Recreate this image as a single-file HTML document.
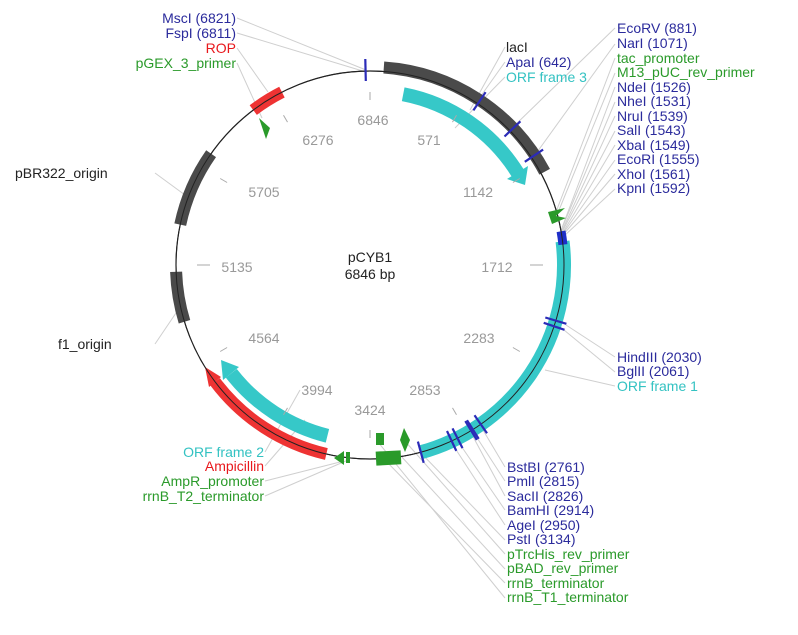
<!DOCTYPE html>
<html><head><meta charset="utf-8"><style>
body{margin:0;background:#fff;width:798px;height:630px;overflow:hidden}
svg{font-family:"Liberation Sans",Arial,sans-serif}
.e{fill:#2b2b9c;font-size:14px}
.g{fill:#2a9a2a;font-size:14px}
.t{fill:#33c2c2;font-size:14px}
.r{fill:#e8181c;font-size:14px}
.k{fill:#222;font-size:14px}
.n{fill:#999;font-size:14px;text-anchor:middle}
.l{stroke:#cfcfcf;stroke-width:1;fill:none}
.tk{stroke:#aaa;stroke-width:1}
.c{stroke:#2b2bb8;stroke-width:2.2}
</style></head><body>
<svg width="798" height="630" viewBox="0 0 798 630">
<g class="l">
<path d="M237,18 L366,70"/><path d="M237,33 L366,72"/>
<path d="M237,48 L268,92"/><path d="M237,63 L262,118"/>
<path d="M155,173 L185,195"/><path d="M155,344 L178,310"/>
<path d="M505,47 L470,110"/><path d="M505,62 L478,100"/><path d="M505,77 L455,128"/>
<path d="M615,28 L512,128"/><path d="M615,44 L535,155"/>
<path d="M615,58 L556,212"/><path d="M615,73 L557,215"/>
<path d="M615,87 L560,233"/><path d="M615,102 L560,233"/><path d="M615,116 L561,233"/>
<path d="M615,131 L561,234"/><path d="M615,145 L562,234"/><path d="M615,160 L562,235"/>
<path d="M615,174 L563,235"/><path d="M615,189 L564,236"/>
<path d="M615,357 L566,325"/><path d="M615,372 L564,330"/><path d="M615,386 L545,370"/>
<path d="M505,467 L480,425"/><path d="M505,481 L472,430"/><path d="M505,496 L470,431"/>
<path d="M505,510 L457,440"/><path d="M505,525 L451,442"/><path d="M505,540 L420,452"/>
<path d="M505,554 L404,440"/><path d="M505,569 L400,455"/><path d="M505,583 L385,460"/><path d="M505,598 L378,442"/>
<path d="M265,452 L300,390"/><path d="M265,466 L305,420"/><path d="M265,481 L340,462"/><path d="M265,496 L348,460"/>
</g>
<circle cx="370" cy="265" r="194" fill="none" stroke="#222" stroke-width="1.2"/>
<circle cx="370" cy="265" r="198" fill="none" stroke="#4a4a4a" stroke-width="12" stroke-dasharray="200 2000" transform="rotate(-86 370 265)"/>
<circle cx="370" cy="265" r="174" fill="none" stroke="#36c8c8" stroke-width="14" stroke-dasharray="142.7 2000" transform="rotate(-79 370 265)"/>
<polygon points="507,179 528,166 525,185" fill="#36c8c8"/>
<circle cx="370" cy="265" r="194" fill="none" stroke="#36c8c8" stroke-width="14" stroke-dasharray="277.6 2000" transform="rotate(-7 370 265)"/>
<circle cx="370" cy="265" r="194" fill="none" stroke="#1e2ec8" stroke-width="9" stroke-dasharray="13.5 2000" transform="rotate(-10 370 265)"/>
<circle cx="370" cy="265" r="194" fill="none" stroke="#ee3333" stroke-width="12" stroke-dasharray="33.9 2000" transform="rotate(233 370 265)"/>
<circle cx="370" cy="265" r="194" fill="none" stroke="#4a4a4a" stroke-width="12" stroke-dasharray="77.9 2000" transform="rotate(192 370 265)"/>
<circle cx="370" cy="265" r="194" fill="none" stroke="#4a4a4a" stroke-width="12" stroke-dasharray="50.8 2000" transform="rotate(163 370 265)"/>
<circle cx="370" cy="265" r="194" fill="none" stroke="#ee3333" stroke-width="12" stroke-dasharray="135.4 2000" transform="rotate(103 370 265)"/>
<polygon points="221,377 209,387 205,367" fill="#ee3333"/>
<circle cx="370" cy="265" r="176" fill="none" stroke="#36c8c8" stroke-width="14" stroke-dasharray="116.7 2000" transform="rotate(104 370 265)"/>
<polygon points="239,367 223,380 221,360" fill="#36c8c8"/>
<circle cx="370" cy="265" r="194" fill="none" stroke="#222" stroke-width="1" />
<polygon points="259,118 270,128 266,139" fill="#2a9a2a"/>
<polygon points="548,212 565,208 556,216 566,218 552,224" fill="#2a9a2a"/>
<rect x="376" y="433" width="8" height="12" fill="#2a9a2a"/>
<rect x="376" y="451" width="25" height="14" fill="#2a9a2a" transform="rotate(-3 388 458)"/>
<polygon points="400,440 404,428 410,440 405,452" fill="#2a9a2a"/>
<polygon points="334,458 344,451 344,465" fill="#2a9a2a"/>
<rect x="346" y="452" width="4" height="11" fill="#2a9a2a"/>
<g class="c">
<line x1="365.8" y1="81" x2="365.3" y2="59"/>
<line x1="473.4" y1="110.4" x2="485.6" y2="92.2"/>
<line x1="504.5" y1="136.5" x2="520.4" y2="121.3"/>
<line x1="524.8" y1="161.8" x2="543.1" y2="149.6"/>
<line x1="545.3" y1="317.5" x2="566.4" y2="323.8"/>
<line x1="543.7" y1="322.8" x2="564.5" y2="329.8"/>
<line x1="474.5" y1="415.2" x2="487" y2="433.3"/>
<line x1="467" y1="420.2" x2="478.7" y2="438.8"/>
<line x1="465.3" y1="421.1" x2="476.8" y2="439.9"/>
<line x1="452.5" y1="428.4" x2="462.5" y2="448.1"/>
<line x1="447" y1="431" x2="456.3" y2="450.9"/>
<line x1="417.9" y1="441.6" x2="423.7" y2="462.8"/>
</g>
<g class="tk">
<line x1="370" y1="100" x2="370" y2="92"/><line x1="452.5" y1="122.1" x2="456.5" y2="115.2"/>
<line x1="512.9" y1="182.5" x2="519.8" y2="178.5"/><line x1="530" y1="265" x2="543" y2="265"/>
<line x1="512.9" y1="347.5" x2="519.8" y2="351.5"/><line x1="452.5" y1="407.9" x2="456.5" y2="414.8"/>
<line x1="370" y1="430" x2="370" y2="438"/><line x1="287.5" y1="407.9" x2="283.5" y2="414.8"/>
<line x1="227.1" y1="347.5" x2="220.2" y2="351.5"/><line x1="210" y1="265" x2="197" y2="265"/>
<line x1="227.1" y1="182.5" x2="220.2" y2="178.5"/><line x1="287.5" y1="122.1" x2="283.5" y2="115.2"/>
</g>
<g class="n">
<text x="373" y="125">6846</text><text x="429" y="145">571</text><text x="478" y="197">1142</text>
<text x="497" y="272">1712</text><text x="479" y="343">2283</text><text x="425" y="395">2853</text>
<text x="370" y="415">3424</text><text x="317" y="395">3994</text><text x="264" y="343">4564</text>
<text x="237" y="272">5135</text><text x="264" y="197">5705</text><text x="318" y="145">6276</text>
</g>
<text x="370" y="262" class="k" text-anchor="middle">pCYB1</text>
<text x="370" y="279" class="k" text-anchor="middle">6846 bp</text>
<g text-anchor="end">
<text x="236" y="23" class="e">MscI (6821)</text>
<text x="236" y="38" class="e">FspI (6811)</text>
<text x="236" y="53" class="r">ROP</text>
<text x="236" y="68" class="g">pGEX_3_primer</text>
<text x="264" y="457" class="t">ORF frame 2</text>
<text x="264" y="471" class="r">Ampicillin</text>
<text x="264" y="486" class="g">AmpR_promoter</text>
<text x="264" y="501" class="g">rrnB_T2_terminator</text>
</g>
<text x="15" y="178" class="k">pBR322_origin</text>
<text x="58" y="349" class="k">f1_origin</text>
<text x="506" y="52" class="k">lacI</text>
<text x="506" y="67" class="e">ApaI (642)</text>
<text x="506" y="82" class="t">ORF frame 3</text>
<text x="617" y="33" class="e">EcoRV (881)</text>
<text x="617" y="48" class="e">NarI (1071)</text>
<text x="617" y="63" class="g">tac_promoter</text>
<text x="617" y="77" class="g">M13_pUC_rev_primer</text>
<text x="617" y="92" class="e">NdeI (1526)</text>
<text x="617" y="106" class="e">NheI (1531)</text>
<text x="617" y="121" class="e">NruI (1539)</text>
<text x="617" y="135" class="e">SalI (1543)</text>
<text x="617" y="150" class="e">XbaI (1549)</text>
<text x="617" y="164" class="e">EcoRI (1555)</text>
<text x="617" y="179" class="e">XhoI (1561)</text>
<text x="617" y="193" class="e">KpnI (1592)</text>
<text x="617" y="362" class="e">HindIII (2030)</text>
<text x="617" y="376" class="e">BglII (2061)</text>
<text x="617" y="391" class="t">ORF frame 1</text>
<text x="507" y="472" class="e">BstBI (2761)</text>
<text x="507" y="486" class="e">PmlI (2815)</text>
<text x="507" y="501" class="e">SacII (2826)</text>
<text x="507" y="515" class="e">BamHI (2914)</text>
<text x="507" y="530" class="e">AgeI (2950)</text>
<text x="507" y="544" class="e">PstI (3134)</text>
<text x="507" y="559" class="g">pTrcHis_rev_primer</text>
<text x="507" y="573" class="g">pBAD_rev_primer</text>
<text x="507" y="588" class="g">rrnB_terminator</text>
<text x="507" y="602" class="g">rrnB_T1_terminator</text>
</svg>
</body></html>
